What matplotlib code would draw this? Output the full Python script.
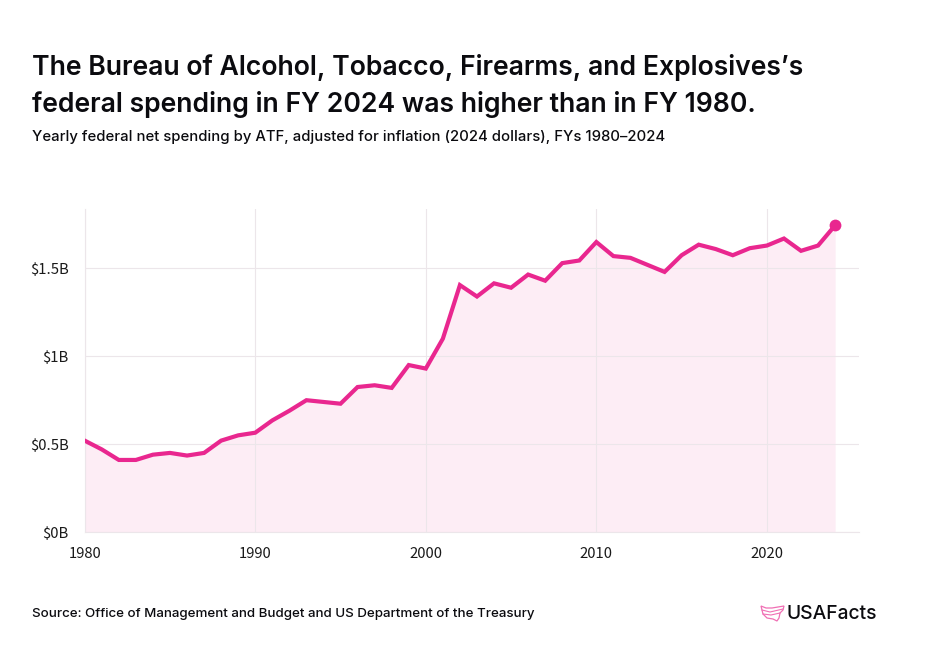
import matplotlib
matplotlib.use("Agg")
import matplotlib.pyplot as plt
from matplotlib.patches import Polygon

# ATF net spending, billions of 2024 dollars
years = list(range(1980, 2025))
spending = [0.52, 0.47, 0.41, 0.41, 0.44, 0.45, 0.435, 0.45, 0.52, 0.55,
            0.565, 0.635, 0.69, 0.75, 0.74, 0.73, 0.825, 0.835, 0.82, 0.95,
            0.93, 1.10, 1.405, 1.34, 1.415, 1.39, 1.465, 1.43, 1.53, 1.545,
            1.65, 1.57, 1.56, 1.52, 1.48, 1.575, 1.635, 1.61, 1.575, 1.615,
            1.63, 1.67, 1.60, 1.63, 1.745]
y_ticks = [0, 0.5, 1, 1.5]
y_labels = ["$0B", "$0.5B", "$1B", "$1.5B"]
x_ticks = [1980, 1990, 2000, 2010, 2020]

PINK = "#e9278f"
FILL = "#fdedf5"
GRID = "#ece6ea"
W, H = 929, 661

fig = plt.figure(figsize=(W / 100, H / 100), dpi=100, facecolor="white")
ax = fig.add_axes([84.7 / W, 1 - 532 / H, (859 - 84.7) / W, (532 - 209) / H])

ax.fill_between(years, spending, 0, color=FILL, lw=0, zorder=1)
ax.plot(years, spending, color=PINK, lw=3.0, solid_joinstyle="miter", zorder=3)
ax.plot(years[-1], spending[-1], "o", color=PINK, ms=8.5, mew=0, clip_on=False, zorder=4)

ax.set_xlim(1980, 2025.4)
ax.set_ylim(0, 1.838)
ax.set_xticks(x_ticks)
ax.set_yticks(y_ticks)
ax.set_yticklabels(y_labels)
ax.grid(True, color=GRID, lw=0.8, zorder=2)
ax.set_axisbelow(False)
for side in ["top", "right"]:
    ax.spines[side].set_visible(False)
for side in ["left", "bottom"]:
    ax.spines[side].set_color(GRID)
    ax.spines[side].set_linewidth(0.8)
ax.tick_params(length=0, labelsize=10.7, labelcolor="#1a1a1a", pad=10.5)
ax.tick_params(axis="y", pad=11.5)
for lbl in ax.get_xticklabels() + ax.get_yticklabels():
    lbl.set_family("Noto Sans CJK JP")


def put_text(px, py, s, size, weight="normal", family="Inter"):
    fig.text(px / W, 1 - py / H, s, fontsize=size, fontweight=weight,
             family=family, color="#0b0b0f", va="baseline", ha="left")


put_text(32, 75, "The Bureau of Alcohol, Tobacco, Firearms, and Explosives\u2019s", 19.15, "semibold")
put_text(32, 112, "federal spending in FY 2024 was higher than in FY 1980.", 19.15, "semibold")
put_text(32, 141, "Yearly federal net spending by ATF, adjusted for inflation (2024 dollars), FYs 1980\u20132024", 10.7, "medium")
put_text(32, 617, "Source: Office of Management and Budget and US Department of the Treasury", 9.6, "medium")
put_text(787, 619, "USAFacts", 13.9, "medium")

# logo: pink outline map next to the wordmark
outline = [(761, 606), (766, 608), (772, 608), (778, 607), (784, 606), (783, 610), (780, 613),
           (779, 618), (777, 621), (773, 619), (767, 618), (763, 614), (762, 610)]
fig.add_artist(Polygon([(x / W, 1 - y / H) for x, y in outline], closed=True, fill=False,
                       edgecolor="#f06fb4", lw=0.9, transform=fig.transFigure))
for stripe in [[(762, 610), (770, 612), (783, 609)], [(763, 614), (771, 615), (780, 613)]]:
    fig.add_artist(plt.Line2D([x / W for x, _ in stripe], [1 - y / H for _, y in stripe],
                              color="#f06fb4", lw=0.8, transform=fig.transFigure))

fig.savefig("out.png", dpi=100)
